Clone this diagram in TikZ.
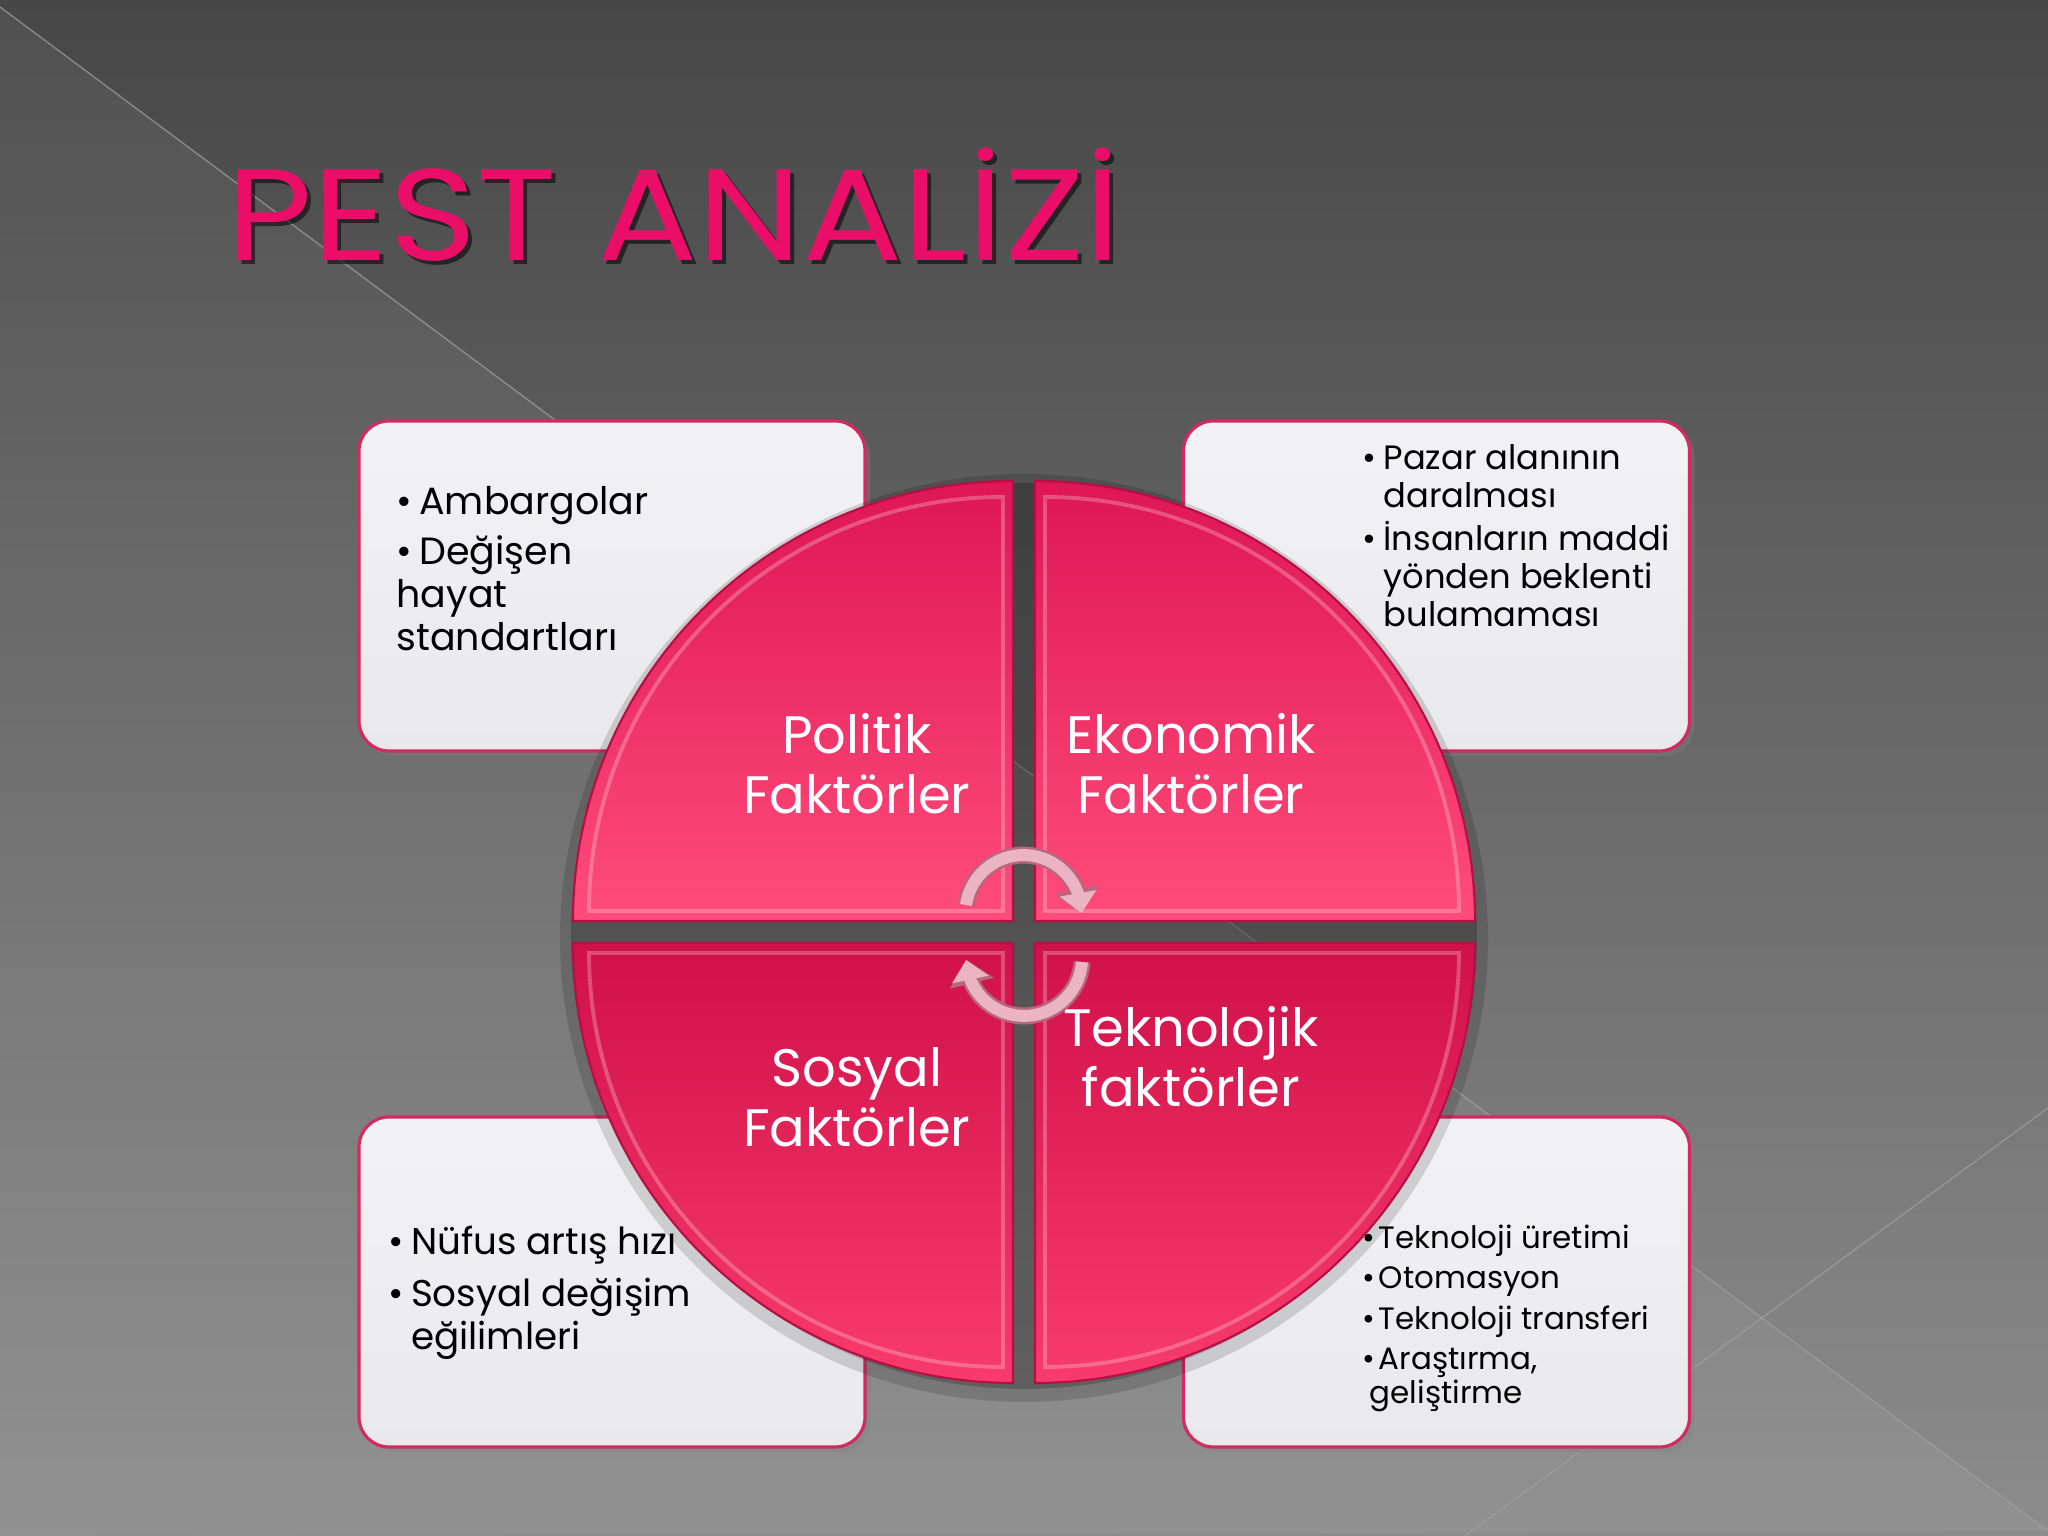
\documentclass[tikz,border=0pt]{standalone}
\usepackage{fontspec}
\setmainfont{Poppins}
\usetikzlibrary{shadows,arrows.meta,bending}

\definecolor{bgtop}{HTML}{474747}
\definecolor{bgmid}{HTML}{626262}
\definecolor{bgbot}{HTML}{8C8C8C}
\definecolor{bgline}{HTML}{A0A0A0}
\definecolor{titlepink}{HTML}{EA0E68}
\definecolor{boxrim}{HTML}{D42A62}
\definecolor{boxtop}{HTML}{F2F2F4}
\definecolor{boxbot}{HTML}{E9E9EB}
\definecolor{quadtopA}{HTML}{DE1657}
\definecolor{quadbotA}{HTML}{FF4C7A}
\definecolor{quadtopB}{HTML}{D0104A}
\definecolor{quadbotB}{HTML}{F83B6C}
\definecolor{quadrim}{HTML}{B80E45}
\definecolor{arrowfill}{HTML}{EBB4C2}
\definecolor{arrowedge}{HTML}{B8687E}

\begin{document}
\begin{tikzpicture}[
  factbox/.style={draw=boxrim, line width=0.9pt, rounded corners=0.3cm,
    top color=boxtop, bottom color=boxbot, minimum width=5.06cm,
    minimum height=3.30cm, inner sep=0pt,
    drop shadow={opacity=0.35, shadow xshift=0.05cm, shadow yshift=-0.05cm}},
  boxtext/.style={anchor=north west, inner sep=0pt, align=left, text=black},
  quadlabel/.style={text=white, align=center, inner sep=0pt,
    font=\fontsize{15}{17}\selectfont},
  bevel/.style={white, opacity=0.25, line width=1.1pt},
  turnedge/.style={line width=4.8pt, draw=arrowedge,
    -{Triangle[length=0.24cm,width=0.44cm]}},
  turnarrow/.style={line width=3.4pt, draw=arrowfill,
    -{Triangle[length=0.2cm,width=0.36cm]}},
  titletext/.style={anchor=base west, inner sep=0pt,
    font=\fontsize{37}{37}\selectfont},
]
\useasboundingbox (0,0) rectangle (20.48,15.36);
\shade[top color=bgtop, middle color=bgmid, bottom color=bgbot] (0,0) rectangle (20.48,15.36);
\fill[white, opacity=0.05] (0,15.29) -- (20.48,0.05) -- (0,0) -- cycle;
\draw[bgline, line width=0.4pt, opacity=0.7] (0,15.29) -- (20.48,0.05);
\draw[bgline, line width=0.4pt, opacity=0.7] (20.48,4.28) -- (14.65,0);

\node[factbox] (polbox) at (6.12,9.50) {};
\node[factbox] (ekobox) at (14.365,9.50) {};
\node[factbox] (sosbox) at (6.12,2.54) {};
\node[factbox] (tekbox) at (14.365,2.54) {};

\fill[black, opacity=0.14] (10.24,5.98) circle (4.64);
\fill[black, opacity=0.2] (10.24,6.00) circle (4.53);

\shade[top color=quadtopA, bottom color=quadbotA] (10.13,6.15) -- (5.73,6.15) arc (180:90:4.40) -- cycle;
\draw[quadrim, line width=0.6pt] (10.13,6.15) -- (5.73,6.15) arc (180:90:4.40) -- cycle;
\draw[bevel] (10.03,6.25) -- (5.89,6.25) arc (180:90:4.14) -- cycle;

\shade[top color=quadtopA, bottom color=quadbotA] (10.35,6.15) -- (10.35,10.55) arc (90:0:4.40) -- cycle;
\draw[quadrim, line width=0.6pt] (10.35,6.15) -- (10.35,10.55) arc (90:0:4.40) -- cycle;
\draw[bevel] (10.45,6.25) -- (10.45,10.39) arc (90:0:4.14) -- cycle;

\shade[top color=quadtopB, bottom color=quadbotB] (10.13,5.93) -- (5.73,5.93) arc (180:270:4.40) -- cycle;
\draw[quadrim, line width=0.6pt] (10.13,5.93) -- (5.73,5.93) arc (180:270:4.40) -- cycle;
\draw[bevel] (10.03,5.83) -- (5.89,5.83) arc (180:270:4.14) -- cycle;

\shade[top color=quadtopB, bottom color=quadbotB] (10.35,5.93) -- (14.75,5.93) arc (0:-90:4.40) -- cycle;
\draw[quadrim, line width=0.6pt] (10.35,5.93) -- (14.75,5.93) arc (0:-90:4.40) -- cycle;
\draw[bevel] (10.45,5.83) -- (14.59,5.83) arc (0:-90:4.14) -- cycle;

\node[quadlabel] (pol) at (8.57,7.72) {Politik\\Faktörler};
\node[quadlabel] (eko) at (11.91,7.72) {Ekonomik\\Faktörler};
\node[quadlabel] (sos) at (8.57,4.39) {Sosyal\\Faktörler};
\node[quadlabel] (tek) at (11.91,4.79) {Teknolojik\\faktörler};

\draw[turnedge] (9.66,6.31) arc (172:0:0.58);
\draw[turnarrow] (9.66,6.31) arc (172:0:0.58);
\draw[turnedge] (10.82,5.74) arc (-4:-178:0.58);
\draw[turnarrow] (10.82,5.74) arc (-4:-178:0.58);

\node[boxtext, font={\fontsize{10.8}{12.2}\selectfont\lineskiplimit=-10pt}] (poltext) at (3.96,10.50)
  {\textbullet\hspace{2pt}Ambargolar\\[2pt]\textbullet\hspace{2pt}Değişen\\hayat\\standartları};
\node[boxtext, font={\fontsize{9.6}{10.8}\selectfont\lineskiplimit=-10pt}] (ekotext) at (13.62,10.92)
  {\textbullet\hspace{2pt}Pazar alanının\\\hphantom{\textbullet\hspace{2pt}}daralması\\[1.4pt]%
   \textbullet\hspace{2pt}İnsanların maddi\\\hphantom{\textbullet\hspace{2pt}}yönden beklenti\\%
   \hphantom{\textbullet\hspace{2pt}}bulamaması};
\node[boxtext, font={\fontsize{10.6}{12.2}\selectfont\lineskiplimit=-10pt}] (sostext) at (3.88,3.11)
  {\textbullet\hspace{2pt}Nüfus artış hızı\\[2.6pt]\textbullet\hspace{2pt}Sosyal değişim\\%
   \hphantom{\textbullet\hspace{2pt}}eğilimleri};
\node[boxtext, font={\fontsize{8.8}{9.7}\selectfont\lineskiplimit=-10pt}] (tektext) at (13.62,3.12)
  {\textbullet\hspace{1pt}Teknoloji üretimi\\[1.8pt]\textbullet\hspace{1pt}Otomasyon\\[1.8pt]%
   \textbullet\hspace{1pt}Teknoloji transferi\\[1.8pt]\textbullet\hspace{1pt}Araştırma,\\%
   \hspace{2pt}geliştirme};

\node[titletext, text=black, opacity=0.55] (titleshade) at (2.30,12.71) {\scalebox{1.146}[1]{PEST ANALİZİ}};
\node[titletext, text=titlepink] (title) at (2.26,12.75) {\scalebox{1.146}[1]{PEST ANALİZİ}};
\end{tikzpicture}
\end{document}
